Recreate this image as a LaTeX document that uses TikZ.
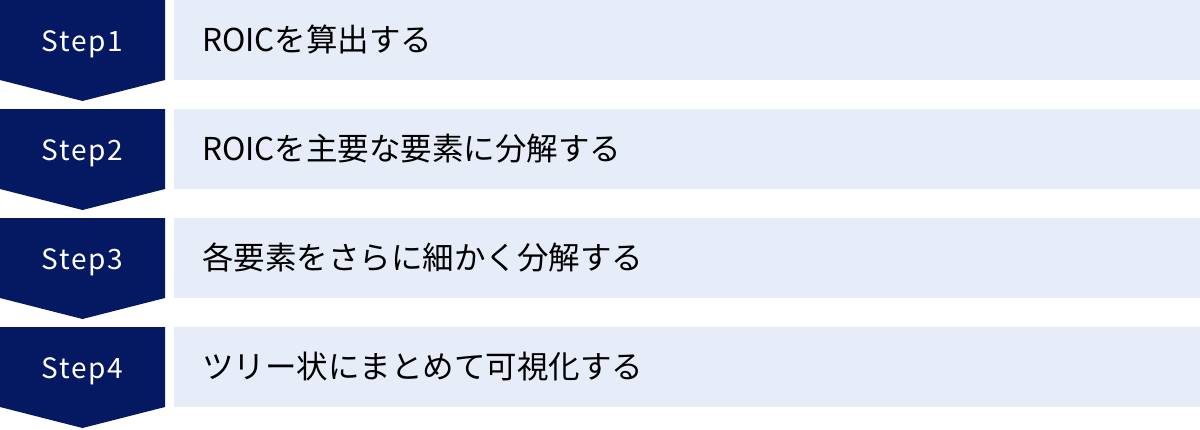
\documentclass[tikz,border=0pt]{standalone}
\usepackage{fontspec}
\setmainfont{Noto Sans CJK JP}
\definecolor{stepnavy}{HTML}{051862}
\definecolor{steplight}{HTML}{E7ECF9}
\begin{document}
\begin{tikzpicture}[x=1pt,y=-1pt,
    steplabel/.style={anchor=base,inner sep=0pt,text=white,font=\fontsize{28}{32}\selectfont\addfontfeature{LetterSpace=6}},
    steptext/.style={anchor=base west,inner sep=0pt,text=black,font=\fontsize{31.5}{36}\selectfont}]
  \useasboundingbox (0,0) rectangle (1200,429);
  \foreach \n/\txt [evaluate=\n as \rowtop using (\n-1)*109] in
      {1/ROICを算出する, 2/ROICを主要な要素に分解する,
       3/各要素をさらに細かく分解する, 4/ツリー状にまとめて可視化する}{
    \fill[stepnavy] (0,\rowtop) -- (165,\rowtop) -- (165,\rowtop+80) -- (82.5,\rowtop+101) -- (0,\rowtop+80) -- cycle;
    \fill[steplight] (174,\rowtop) rectangle (1200,\rowtop+80);
    \node[steplabel] (step\n) at (82.5,\rowtop+51) {Step\n};
    \node[steptext] (task\n) at (202,\rowtop+51) {\txt};
  }
\end{tikzpicture}
\end{document}
